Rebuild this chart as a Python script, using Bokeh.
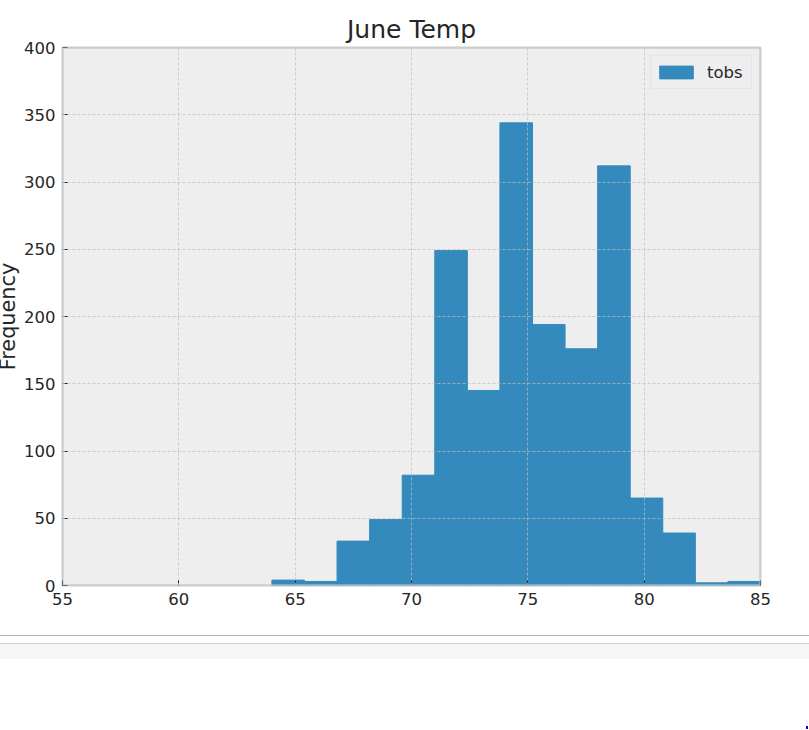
from bokeh.plotting import figure
from bokeh.models import Range1d, Div, FixedTicker, Legend, LegendItem, ColumnDataSource, Span
from bokeh.layouts import column
from bokeh.embed import file_html
from bokeh.resources import INLINE

title_text = "June Temp"
y_label = "Frequency"
series_name = "tobs"
bin_edges = [64.0, 65.4, 66.8, 68.2, 69.6, 71.0, 72.4, 73.8, 75.2, 76.6, 78.0, 79.4, 80.8, 82.2, 83.6, 85.0]
counts = [4, 3, 33, 49, 82, 249, 145, 344, 194, 176, 312, 65, 39, 2, 3]
x_ticks = [55, 60, 65, 70, 75, 80, 85]
y_ticks = [0, 50, 100, 150, 200, 250, 300, 350, 400]

FONT = "DejaVu Sans"
TEXT = "#262626"
SPINE = "#cccccc"

p = figure(width=817, height=635, output_backend="svg", toolbar_location=None,
           x_range=Range1d(55, 85), y_range=Range1d(0, 400),
           min_border_left=70, min_border_right=41, min_border_top=47, min_border_bottom=50,
           background_fill_color="#eeeeee", border_fill_color="white",
           styles={"margin-left": "-8px"})

p.title.text = title_text
p.title.align = "center"
p.title.text_font = FONT
p.title.text_font_size = "25px"
p.title.text_font_style = "normal"
p.title.text_color = TEXT
p.title.standoff = 7

src = ColumnDataSource(dict(left=bin_edges[:-1], right=bin_edges[1:], top=counts, bottom=[0] * len(counts)))
r = p.quad(left="left", right="right", top="top", bottom="bottom", source=src,
           fill_color="#348ABD", line_color="#348ABD", line_width=1)

legend = Legend(items=[LegendItem(label=series_name, renderers=[r])], location="top_right",
                label_text_font=FONT, label_text_font_size="16.5px", label_text_color=TEXT,
                glyph_width=42, glyph_height=16, label_standoff=10, padding=4, margin=8,
                label_width=40, label_height=24,
                background_fill_color="#eeeeee", background_fill_alpha=0.8,
                border_line_color="#dcdcdc", border_line_width=1)
p.add_layout(legend)

for ax, ticks in ((p.xaxis[0], x_ticks), (p.yaxis[0], y_ticks)):
    ax.ticker = FixedTicker(ticks=ticks)
    ax.axis_line_color = None
    ax.major_tick_in = 5
    ax.major_tick_out = 0
    ax.major_tick_line_color = "#000000"
    ax.minor_tick_line_color = None
    ax.major_label_text_font = FONT
    ax.major_label_text_font_size = "16.5px"
    ax.major_label_text_color = TEXT
    ax.major_label_standoff = 7

p.yaxis[0].axis_label = y_label
p.yaxis[0].axis_label_text_font = FONT
p.yaxis[0].axis_label_text_font_size = "20.8px"
p.yaxis[0].axis_label_text_font_style = "normal"
p.yaxis[0].axis_label_text_color = TEXT
p.yaxis[0].axis_label_standoff = 1

p.grid.level = "guide"
p.grid.grid_line_color = "#bdbdbd"
p.grid.grid_line_alpha = 0.7
p.grid.grid_line_dash = [3, 2]
p.grid.grid_line_width = 1
p.outline_line_color = SPINE
p.outline_line_width = 2

# the frame hides the ticks that fall on its edges
for dim, loc in (("height", x_ticks[0]), ("height", x_ticks[-1]), ("width", y_ticks[0]), ("width", y_ticks[-1])):
    p.add_layout(Span(location=loc, dimension=dim, line_color=SPINE, line_width=2, level="overlay"))

footer = Div(width=809, height=95, text="""
<div style="position:relative;width:809px;height:95px;margin:0;padding:0;">
  <div style="position:absolute;left:0;top:0;width:809px;height:1px;background:#b4b4b4;"></div>
  <div style="position:absolute;left:0;top:8px;width:809px;height:16px;background:#f6f6f6;border-top:1px solid #cfcfcf;box-sizing:border-box;"></div>
  <div style="position:absolute;left:806px;top:91px;width:2px;height:3px;background:#0000dd;"></div>
</div>""", styles={"margin": "0", "padding": "0"})

layout = column(p, footer, spacing=0)

open("out.html", "w").write(file_html(layout, INLINE))
